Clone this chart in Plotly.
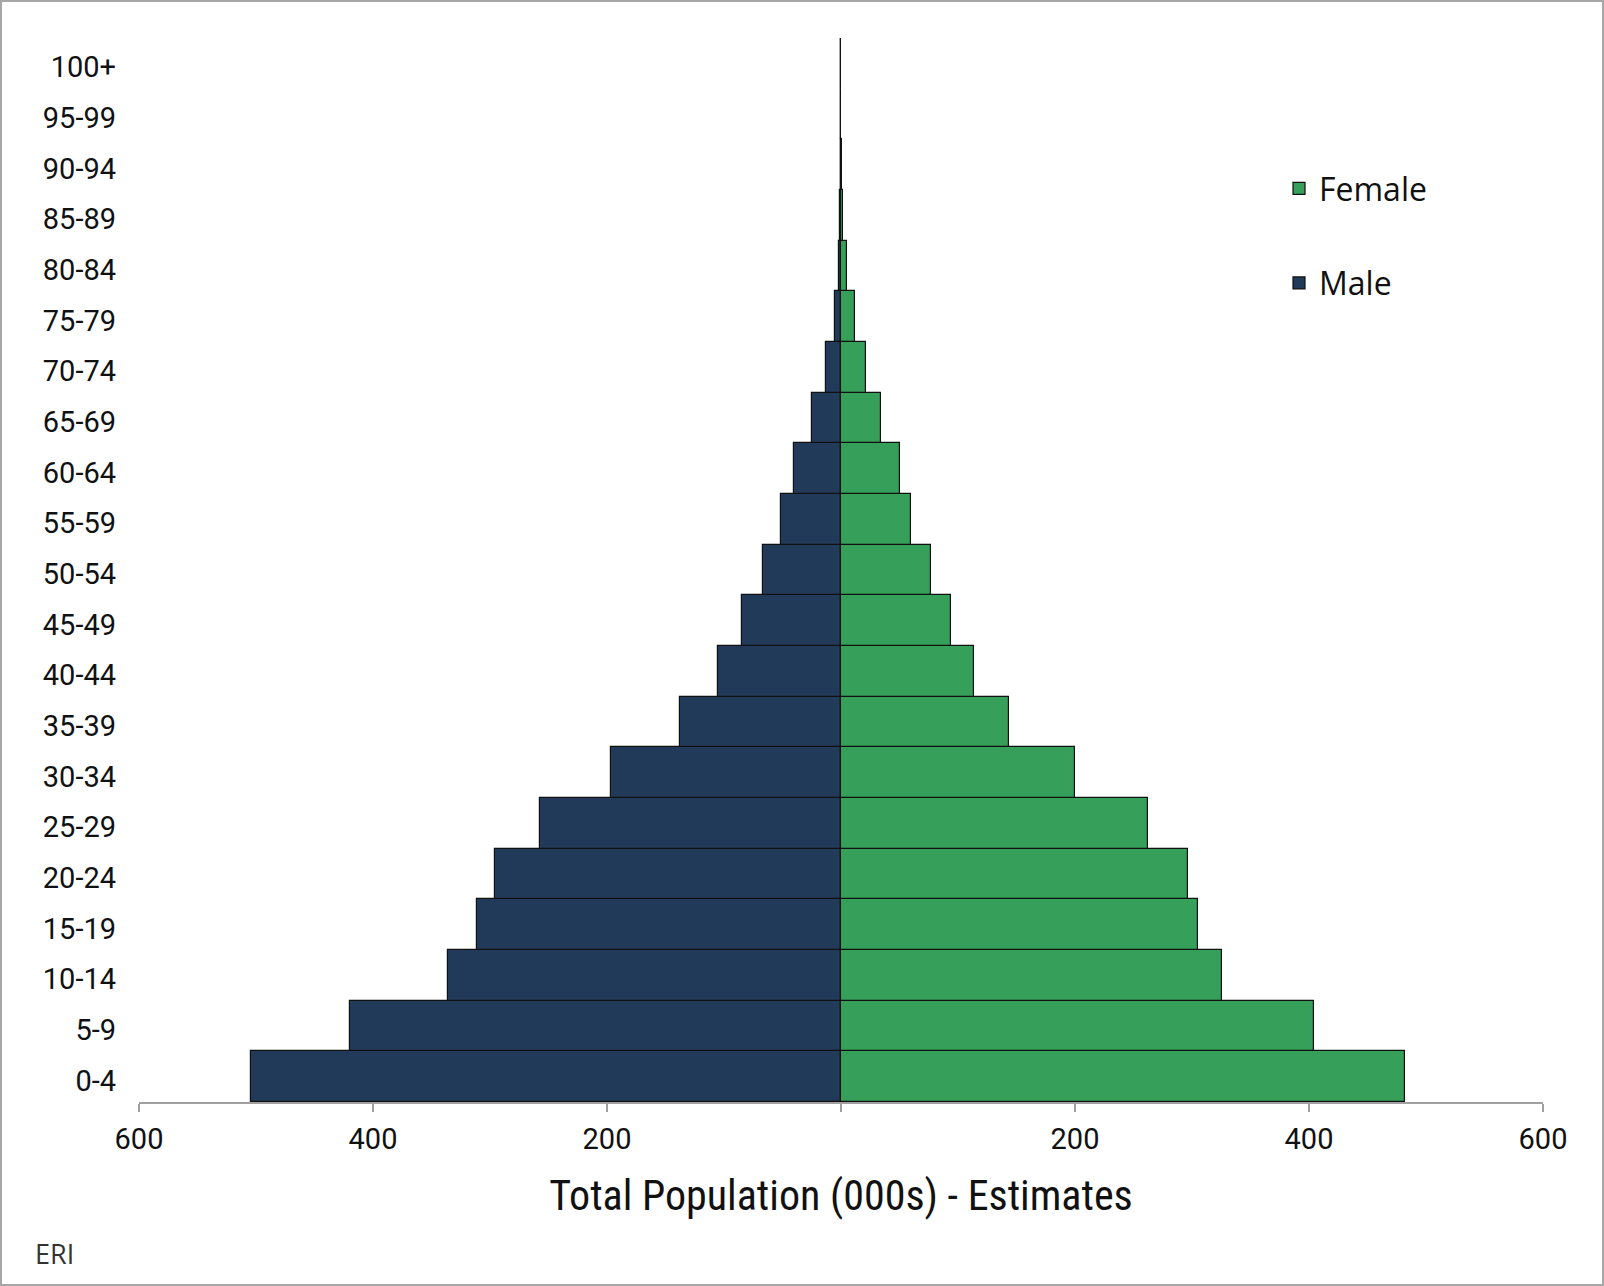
import plotly.graph_objects as go

# Tranches d'âge (du bas vers le haut)
age_groups = ["0-4", "5-9", "10-14", "15-19", "20-24", "25-29", "30-34", "35-39",
              "40-44", "45-49", "50-54", "55-59", "60-64", "65-69", "70-74", "75-79",
              "80-84", "85-89", "90-94", "95-99", "100+"]

# Population en milliers
male = [504, 420, 336, 311, 296, 257, 197, 138, 105, 85, 67, 51, 40, 25, 13, 5.2,
        2, 0.6, 0.25, 0.05, 0.01]
female = [482, 404, 326, 305, 297, 262, 200, 144, 114, 94, 77, 60, 50, 34, 21, 12,
          5.5, 2, 0.6, 0.2, 0.05]

tick_vals = [-600, -400, -200, 0, 200, 400, 600]
tick_text = ["600", "400", "200", "", "200", "400", "600"]

W, H = 1604, 1286
ml, mr, mt, mb = 139, 61, 38, 184
pw, ph = W - ml - mr, H - mt - mb

title_font = "Liberation Sans Narrow, Roboto Condensed, Roboto, sans-serif"
tick_font = "Roboto, sans-serif"

fig = go.Figure()

fig.add_trace(go.Bar(y=age_groups, x=[-v for v in male], orientation="h", name="Male",
                     marker=dict(color="#223A59", line=dict(color="#111111", width=1.2)),
                     legendgroup="m", legendrank=2))
fig.add_trace(go.Bar(y=age_groups, x=female, orientation="h", name="Female",
                     marker=dict(color="#36A05B", line=dict(color="#111111", width=1.2)),
                     legendgroup="f", legendrank=1))

fig.update_layout(
    width=W, height=H,
    margin=dict(l=ml, r=mr, t=mt, b=mb),
    paper_bgcolor="white", plot_bgcolor="white",
    barmode="relative", bargap=0,
    showlegend=True,
    legend=dict(x=(1279 - ml) / pw, y=(H - mb - 161) / ph, xanchor="left", yanchor="top",
                font=dict(family="Segoe UI, Open Sans, sans-serif", size=32, color="#111111"),
                tracegroupgap=50, valign="top", bgcolor="rgba(0,0,0,0)"),
    xaxis=dict(range=[-600, 600], tickvals=tick_vals, ticktext=tick_text,
               showgrid=False, zeroline=False, showline=True, linecolor="#A0A0A0",
               linewidth=2, ticks="outside", ticklen=8, tickcolor="#A0A0A0", tickwidth=2,
               tickfont=dict(family=tick_font, size=29, color="#111111"),
               ticklabelstandoff=2,
               title=dict(text="Total Population (000s) - Estimates", standoff=26,
                          font=dict(family=title_font, size=42, color="#111111"))),
    yaxis=dict(range=[-0.5, 20.5], showgrid=False, zeroline=False, showline=False,
               ticks="", tickfont=dict(family=tick_font, size=29, color="#111111"),
               ticklabelstandoff=22, ticklabelshift=4),
)

# Cadre gris autour du graphique
fig.add_shape(type="rect", xref="paper", yref="paper",
              x0=(1 - ml) / pw, x1=(W - 1 - ml) / pw,
              y0=-(mb - 1) / ph, y1=(ph + mt - 1) / ph,
              line=dict(color="#A6A6A6", width=2))

fig.add_annotation(text="ERI", xref="paper", yref="paper", showarrow=False,
                   x=(33 - ml) / pw, y=-(1253 - (H - mb)) / ph, xanchor="left", yanchor="middle",
                   font=dict(family="Open Sans, sans-serif", size=27, color="#333333"))

fig.write_html("out.html", config={"displayModeBar": False},
               post_script="document.body.style.margin='0';")
